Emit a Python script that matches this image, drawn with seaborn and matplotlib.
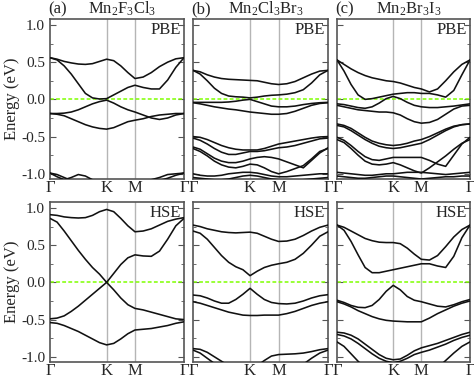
import numpy as np
import pandas as pd
import matplotlib
matplotlib.use("Agg")
import matplotlib.pyplot as plt
import seaborn as sns
from matplotlib.ticker import MultipleLocator, FormatStrFormatter

# high-symmetry points along the Γ-K-M-Γ path (fraction of total length)
K_FRAC = 0.4226
M_FRAC = 0.634
k_path = [0.0, 0.0528, 0.1057, 0.1585, 0.2113, 0.2641, 0.317, 0.3698, 0.4226,
          0.4755, 0.5283, 0.5811, 0.634, 0.695, 0.756, 0.817, 0.878, 0.939, 1.0]
k_labels = ["Γ", "K", "M", "Γ"]

# (a) Mn2F3Cl3, PBE
a_pbe_1 = [0.56, 0.54, 0.51, 0.49, 0.475, 0.47, 0.48, 0.51, 0.54, 0.52, 0.45, 0.36, 0.28, 0.30, 0.36, 0.44, 0.50, 0.545, 0.56]
a_pbe_2 = [0.56, 0.53, 0.45, 0.34, 0.21, 0.08, 0.02, 0.005, 0.01, 0.06, 0.11, 0.16, 0.19, 0.16, 0.14, 0.14, 0.26, 0.43, 0.56]
a_pbe_3 = [-0.19, -0.19, -0.185, -0.17, -0.14, -0.10, -0.06, -0.03, -0.01, -0.05, -0.10, -0.14, -0.17, -0.21, -0.25, -0.27, -0.25, -0.21, -0.19]
a_pbe_4 = [-0.19, -0.20, -0.22, -0.26, -0.30, -0.34, -0.37, -0.39, -0.40, -0.38, -0.34, -0.30, -0.28, -0.26, -0.23, -0.21, -0.20, -0.19, -0.19]
a_pbe_5 = [-0.99, -1.04, -1.08, -1.05, -1.01, -1.03, -1.08, -1.12, -1.15, -1.16, -1.16, -1.16, -1.15, -1.12, -1.08, -1.05, -1.01, -1.0, -0.99]
a_pbe_6 = [-0.99, -1.01, -1.05, -1.09, -1.12, -1.14, -1.15, -1.15, -1.15, -1.15, -1.15, -1.15, -1.15, -1.14, -1.12, -1.09, -1.06, -1.02, -0.99]

# (b) Mn2Cl3Br3, PBE
b_pbe_1 = [0.39, 0.37, 0.33, 0.30, 0.28, 0.27, 0.265, 0.26, 0.255, 0.25, 0.23, 0.21, 0.20, 0.21, 0.24, 0.29, 0.34, 0.38, 0.39]
b_pbe_2 = [0.39, 0.34, 0.25, 0.15, 0.08, 0.045, 0.035, 0.03, 0.02, 0.03, 0.045, 0.055, 0.06, 0.07, 0.09, 0.13, 0.22, 0.33, 0.39]
b_pbe_3 = [-0.04, -0.04, -0.04, -0.04, -0.04, -0.035, -0.025, -0.01, 0.0, -0.03, -0.06, -0.09, -0.10, -0.10, -0.09, -0.07, -0.055, -0.045, -0.04]
b_pbe_4 = [-0.045, -0.06, -0.08, -0.10, -0.115, -0.13, -0.14, -0.155, -0.17, -0.18, -0.19, -0.20, -0.20, -0.19, -0.16, -0.12, -0.08, -0.055, -0.045]
b_pbe_5 = [-0.50, -0.51, -0.54, -0.58, -0.62, -0.65, -0.67, -0.68, -0.68, -0.68, -0.66, -0.63, -0.60, -0.58, -0.56, -0.54, -0.52, -0.505, -0.50]
b_pbe_6 = [-0.52, -0.55, -0.60, -0.66, -0.71, -0.74, -0.74, -0.72, -0.70, -0.70, -0.69, -0.67, -0.65, -0.64, -0.62, -0.59, -0.56, -0.53, -0.52]
b_pbe_7 = [-0.64, -0.67, -0.73, -0.79, -0.83, -0.85, -0.85, -0.83, -0.80, -0.78, -0.77, -0.78, -0.80, -0.84, -0.88, -0.92, -0.82, -0.72, -0.65]
b_pbe_8 = [-0.66, -0.70, -0.76, -0.83, -0.88, -0.91, -0.92, -0.90, -0.87, -0.88, -0.92, -0.97, -1.0, -0.97, -0.93, -0.89, -0.80, -0.70, -0.66]
b_pbe_9 = [-1.0, -1.02, -1.03, -1.03, -1.02, -1.0, -0.99, -0.98, -0.98, -0.99, -1.01, -1.03, -1.04, -1.04, -1.03, -1.02, -1.01, -1.0, -1.0]
b_pbe_10 = [-1.05, -1.06, -1.07, -1.08, -1.08, -1.07, -1.05, -1.03, -1.02, -1.03, -1.05, -1.07, -1.08, -1.09, -1.09, -1.08, -1.07, -1.06, -1.05]

# (c) Mn2Br3I3, PBE
c_pbe_1 = [0.53, 0.47, 0.41, 0.36, 0.32, 0.29, 0.27, 0.25, 0.24, 0.22, 0.19, 0.16, 0.14, 0.10, 0.14, 0.25, 0.37, 0.47, 0.53]
c_pbe_2 = [0.53, 0.38, 0.20, 0.06, 0.0, 0.01, 0.03, 0.05, 0.07, 0.08, 0.09, 0.09, 0.08, 0.08, 0.06, 0.03, 0.12, 0.33, 0.53]
c_pbe_3 = [-0.06, -0.07, -0.09, -0.11, -0.12, -0.10, -0.05, 0.01, 0.04, 0.01, -0.04, -0.08, -0.10, -0.11, -0.11, -0.10, -0.09, -0.075, -0.06]
c_pbe_4 = [-0.08, -0.10, -0.12, -0.14, -0.15, -0.16, -0.17, -0.17, -0.18, -0.21, -0.26, -0.30, -0.32, -0.31, -0.27, -0.20, -0.13, -0.09, -0.08]
c_pbe_5 = [-0.33, -0.35, -0.39, -0.45, -0.51, -0.56, -0.59, -0.61, -0.62, -0.61, -0.59, -0.56, -0.54, -0.50, -0.45, -0.40, -0.36, -0.34, -0.33]
c_pbe_6 = [-0.35, -0.37, -0.42, -0.48, -0.54, -0.59, -0.63, -0.65, -0.66, -0.65, -0.63, -0.61, -0.59, -0.54, -0.48, -0.42, -0.37, -0.34, -0.33]
c_pbe_7 = [-0.51, -0.55, -0.62, -0.70, -0.77, -0.81, -0.82, -0.80, -0.78, -0.78, -0.78, -0.78, -0.78, -0.82, -0.87, -0.90, -0.75, -0.60, -0.51]
c_pbe_8 = [-0.54, -0.58, -0.66, -0.75, -0.83, -0.87, -0.88, -0.87, -0.85, -0.88, -0.92, -0.96, -0.99, -0.92, -0.84, -0.76, -0.67, -0.59, -0.54]
c_pbe_9 = [-0.98, -0.99, -1.0, -1.01, -1.02, -1.02, -1.01, -1.0, -1.0, -0.99, -0.98, -0.98, -0.98, -0.99, -1.0, -1.01, -1.0, -0.99, -0.98]
c_pbe_10 = [-1.03, -1.04, -1.05, -1.06, -1.06, -1.05, -1.04, -1.03, -1.03, -1.04, -1.05, -1.06, -1.07, -1.06, -1.05, -1.04, -1.04, -1.03, -1.03]

# (a) HSE
a_hse_1 = [0.91, 0.90, 0.88, 0.87, 0.865, 0.87, 0.90, 0.95, 0.98, 0.95, 0.86, 0.76, 0.68, 0.69, 0.72, 0.77, 0.82, 0.85, 0.87]
a_hse_2 = [0.86, 0.81, 0.69, 0.56, 0.43, 0.31, 0.20, 0.11, 0.0, 0.12, 0.24, 0.33, 0.37, 0.355, 0.35, 0.42, 0.58, 0.76, 0.86]
a_hse_3 = [-0.49, -0.48, -0.45, -0.39, -0.32, -0.24, -0.16, -0.08, 0.0, -0.10, -0.21, -0.30, -0.35, -0.37, -0.40, -0.43, -0.46, -0.49, -0.50]
a_hse_4 = [-0.54, -0.55, -0.58, -0.62, -0.66, -0.71, -0.76, -0.81, -0.84, -0.82, -0.76, -0.69, -0.64, -0.63, -0.62, -0.60, -0.58, -0.55, -0.53]

# (b) HSE
b_hse_1 = [0.77, 0.75, 0.72, 0.70, 0.68, 0.67, 0.665, 0.67, 0.675, 0.66, 0.62, 0.58, 0.55, 0.555, 0.58, 0.63, 0.69, 0.74, 0.77]
b_hse_2 = [0.69, 0.66, 0.58, 0.47, 0.36, 0.27, 0.21, 0.17, 0.09, 0.15, 0.20, 0.23, 0.25, 0.27, 0.31, 0.39, 0.50, 0.62, 0.68]
b_hse_3 = [-0.17, -0.18, -0.21, -0.25, -0.28, -0.28, -0.23, -0.16, -0.08, -0.16, -0.23, -0.27, -0.285, -0.29, -0.28, -0.25, -0.21, -0.18, -0.165]
b_hse_4 = [-0.26, -0.28, -0.31, -0.34, -0.37, -0.40, -0.42, -0.44, -0.445, -0.445, -0.44, -0.44, -0.44, -0.42, -0.39, -0.35, -0.31, -0.28, -0.26]
b_hse_5 = [-0.89, -0.90, -0.94, -1.0, -1.06, -1.12, -1.15, -1.16, -1.16, -1.12, -1.05, -0.99, -0.97, -0.965, -0.96, -0.95, -0.93, -0.905, -0.89]
b_hse_6 = [-0.91, -0.95, -1.02, -1.09, -1.15, -1.2, -1.2, -1.2, -1.2, -1.2, -1.2, -1.2, -1.2, -1.2, -1.15, -1.10, -1.02, -0.95, -0.91]

# (c) HSE
c_hse_1 = [0.77, 0.74, 0.69, 0.64, 0.59, 0.56, 0.54, 0.535, 0.535, 0.52, 0.46, 0.38, 0.31, 0.30, 0.36, 0.48, 0.61, 0.71, 0.77]
c_hse_2 = [0.77, 0.70, 0.55, 0.37, 0.20, 0.13, 0.13, 0.15, 0.17, 0.19, 0.21, 0.23, 0.25, 0.25, 0.22, 0.20, 0.35, 0.60, 0.77]
c_hse_3 = [-0.24, -0.27, -0.31, -0.335, -0.34, -0.31, -0.23, -0.12, -0.04, -0.10, -0.19, -0.24, -0.26, -0.29, -0.32, -0.33, -0.30, -0.26, -0.23]
c_hse_4 = [-0.26, -0.29, -0.33, -0.38, -0.42, -0.46, -0.49, -0.51, -0.52, -0.525, -0.53, -0.53, -0.53, -0.48, -0.42, -0.37, -0.32, -0.28, -0.25]
c_hse_5 = [-0.67, -0.68, -0.71, -0.76, -0.83, -0.90, -0.97, -1.02, -1.04, -1.03, -0.98, -0.92, -0.88, -0.85, -0.82, -0.78, -0.74, -0.70, -0.67]
c_hse_6 = [-0.70, -0.72, -0.76, -0.82, -0.89, -0.96, -1.02, -1.06, -1.08, -1.06, -1.02, -0.97, -0.94, -0.91, -0.87, -0.83, -0.78, -0.74, -0.71]
c_hse_7 = [-0.80, -0.86, -0.96, -1.06, -1.15, -1.2, -1.2, -1.2, -1.2, -1.2, -1.2, -1.2, -1.2, -1.2, -1.15, -1.05, -0.95, -0.86, -0.80]

a_pbe = [a_pbe_1, a_pbe_2, a_pbe_3, a_pbe_4, a_pbe_5, a_pbe_6]
b_pbe = [b_pbe_1, b_pbe_2, b_pbe_3, b_pbe_4, b_pbe_5, b_pbe_6, b_pbe_7, b_pbe_8, b_pbe_9, b_pbe_10]
c_pbe = [c_pbe_1, c_pbe_2, c_pbe_3, c_pbe_4, c_pbe_5, c_pbe_6, c_pbe_7, c_pbe_8, c_pbe_9, c_pbe_10]
a_hse = [a_hse_1, a_hse_2, a_hse_3, a_hse_4]
b_hse = [b_hse_1, b_hse_2, b_hse_3, b_hse_4, b_hse_5, b_hse_6]
c_hse = [c_hse_1, c_hse_2, c_hse_3, c_hse_4, c_hse_5, c_hse_6, c_hse_7]

panel_tags = ["(a)", "(b)", "(c)"]
compounds = [r"Mn$_2$F$_3$Cl$_3$", r"Mn$_2$Cl$_3$Br$_3$", r"Mn$_2$Br$_3$I$_3$"]
methods = ["PBE", "HSE"]

# style
sns.set_style("ticks")
plt.rcParams["font.family"] = ["Liberation Serif", "DejaVu Serif"]
plt.rcParams["mathtext.fontset"] = "custom"
plt.rcParams["mathtext.rm"] = "Liberation Serif"
plt.rcParams["mathtext.it"] = "Liberation Serif:italic"
plt.rcParams["axes.unicode_minus"] = False

W, H = 474, 379
fig = plt.figure(figsize=(W / 100, H / 100), dpi=100)

col_x = [(50, 184), (193, 328), (337, 470)]
row_y = [(19, 179), (202, 362)]
grid = [[a_pbe, b_pbe, c_pbe], [a_hse, b_hse, c_hse]]


def to_frame(bands):
    rows = []
    for i, band in enumerate(bands):
        for k, e in zip(k_path, band):
            rows.append({"k": k, "E": e, "band": i})
    return pd.DataFrame(rows)


for r, (y0, y1) in enumerate(row_y):
    for c, (x0, x1) in enumerate(col_x):
        ax = fig.add_axes([x0 / W, 1 - y1 / H, (x1 - x0) / W, (y1 - y0) / H])
        df = to_frame(grid[r][c])
        ax.axvline(K_FRAC, color="#b5b5b5", lw=1.0, zorder=1)
        ax.axvline(M_FRAC, color="#b5b5b5", lw=1.0, zorder=1)
        ax.axhline(0, color="#7fff00", lw=1.1, ls=(0, (2.5, 1.5)), zorder=2)
        sns.lineplot(data=df, x="k", y="E", units="band", estimator=None,
                     sort=False, color="#111111", lw=1.15, ax=ax, zorder=3)
        ax.set_xlim(0, 1)
        ax.set_ylim(-1.07, 1.08)
        ax.set_xticks([0, K_FRAC, M_FRAC, 1])
        ax.set_xticklabels(k_labels, fontsize=12)
        ax.yaxis.set_major_locator(MultipleLocator(0.5))
        ax.yaxis.set_minor_locator(MultipleLocator(0.25))
        ax.yaxis.set_major_formatter(FormatStrFormatter("%.1f"))
        ax.tick_params(axis="y", which="both", direction="in", left=True, right=True,
                       labelsize=11, color="#555555")
        ax.tick_params(axis="y", which="major", length=4)
        ax.tick_params(axis="y", which="minor", length=2)
        ax.tick_params(axis="x", length=0, pad=0.5)
        if c > 0:
            ax.tick_params(axis="y", labelleft=False)
        ax.set_xlabel("")
        ax.set_ylabel("")
        for s in ax.spines.values():
            s.set_color("#555555")
            s.set_linewidth(1.2)
        ax.text(0.975, 0.93, methods[r], transform=ax.transAxes,
                ha="right", va="center", fontsize=12)
        if r == 0:
            fig.text((x0 + 8) / W, 1 - 9 / H, panel_tags[c], ha="center", va="center", fontsize=12)
            fig.text((x0 + 0.54 * (x1 - x0)) / W, 1 - 9 / H, compounds[c],
                     ha="center", va="center", fontsize=12)
    fig.text(12 / W, 1 - ((y0 + y1) / 2) / H, "Energy (eV)", rotation=90,
             ha="center", va="center", fontsize=12)

fig.savefig("out.png", dpi=100)
